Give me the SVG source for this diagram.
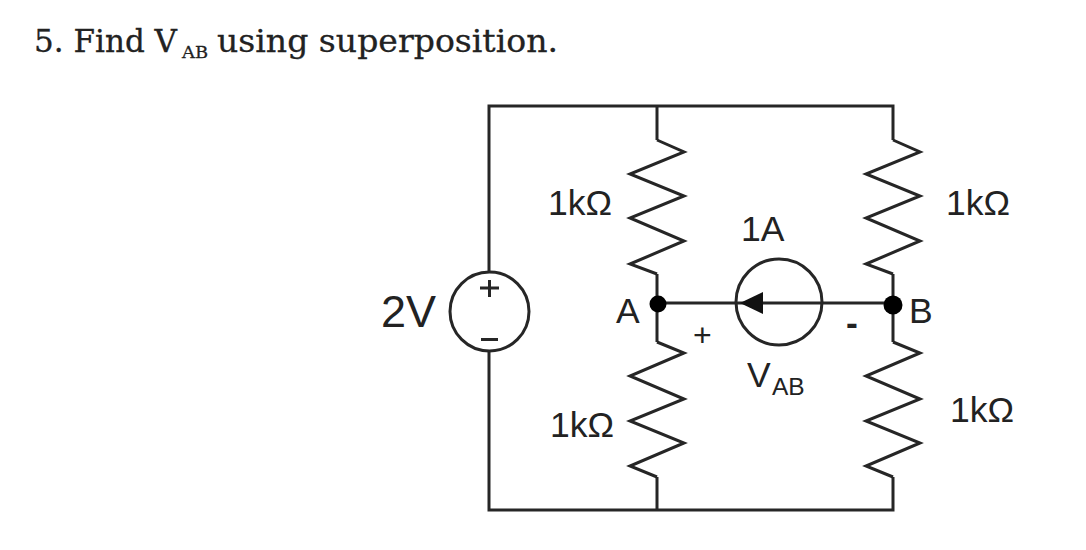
<svg xmlns="http://www.w3.org/2000/svg" width="1086" height="550" viewBox="0 0 1086 550">
<style>
.w{fill:none;stroke:#262626;stroke-width:3;stroke-linejoin:miter}
.c{fill:#fff;stroke:#262626;stroke-width:3}
.l{font-family:"Liberation Sans",Arial,sans-serif;font-size:35.5px;fill:#222}
.s{font-family:"Liberation Sans",Arial,sans-serif;font-size:24.5px;fill:#222}
.t{font-family:"DejaVu Serif","Liberation Serif",serif;fill:#222;stroke:#222;stroke-width:.3}
</style>
<rect width="1086" height="550" fill="#fff"/>
<g id="title">
<text class="t" x="34" y="52" font-size="31" textLength="143" lengthAdjust="spacingAndGlyphs">5. Find V</text>
<text class="t" x="182" y="58" font-size="16" textLength="26" lengthAdjust="spacingAndGlyphs">AB</text>
<text class="t" x="217" y="52" font-size="31" textLength="341" lengthAdjust="spacingAndGlyphs">using superposition.</text>
</g>
<g id="connectors">
<path class="w" d="M489 272V106H893V140M657 106V140M489 351V510H893V477M657 510V477"/>
<path class="w" d="M657 274V342M893 274V342M658 303H893"/>
</g>
<g id="r1"><path class="w" d="M657 140L684 152L630 174L684 196L630 218L684 241L630 264L657 274"/><text class="l" x="548" y="215">1kΩ</text></g>
<g id="r2"><path class="w" d="M893 140L920 152L866 174L920 196L866 218L920 241L866 264L893 274"/><text class="l" x="946" y="215">1kΩ</text></g>
<g id="r3"><path class="w" d="M657 342L684 353L630 376L684 399L630 421L684 443L630 466L657 477"/><text class="l" x="550" y="437">1kΩ</text></g>
<g id="r4"><path class="w" d="M893 342L920 353L866 376L920 399L866 421L920 443L866 466L893 477"/><text class="l" x="950" y="422">1kΩ</text></g>
<g id="v1"><circle class="c" cx="489.500" cy="311.500" r="39.500"/>
<path class="w" d="M489.500 280V297M480 288H499M481 339.500H498"/><text class="l" x="381" y="327" font-size="45" style="font-size:45px">2V</text></g>
<g id="i1"><circle cx="779" cy="302" r="43" fill="none" stroke="#262626" stroke-width="3"/><path d="M740 303L763 292V314Z" fill="#111"/><text class="l" x="741" y="241">1A</text></g>
<g id="nodeA"><circle cx="658" cy="304" r="8.500" fill="#000"/><text class="l" x="616" y="323">A</text></g>
<g id="nodeB"><circle cx="893" cy="305" r="9.500" fill="#000"/><text class="l" x="909" y="323">B</text></g>
<g id="vab"><text class="l" x="747" y="387">V</text><text class="s" x="772" y="395">AB</text>
<text class="l" x="693" y="346" style="font-size:32px">+</text><text class="l" x="846" y="335" font-weight="bold" style="font-weight:bold">-</text></g>
</svg>
